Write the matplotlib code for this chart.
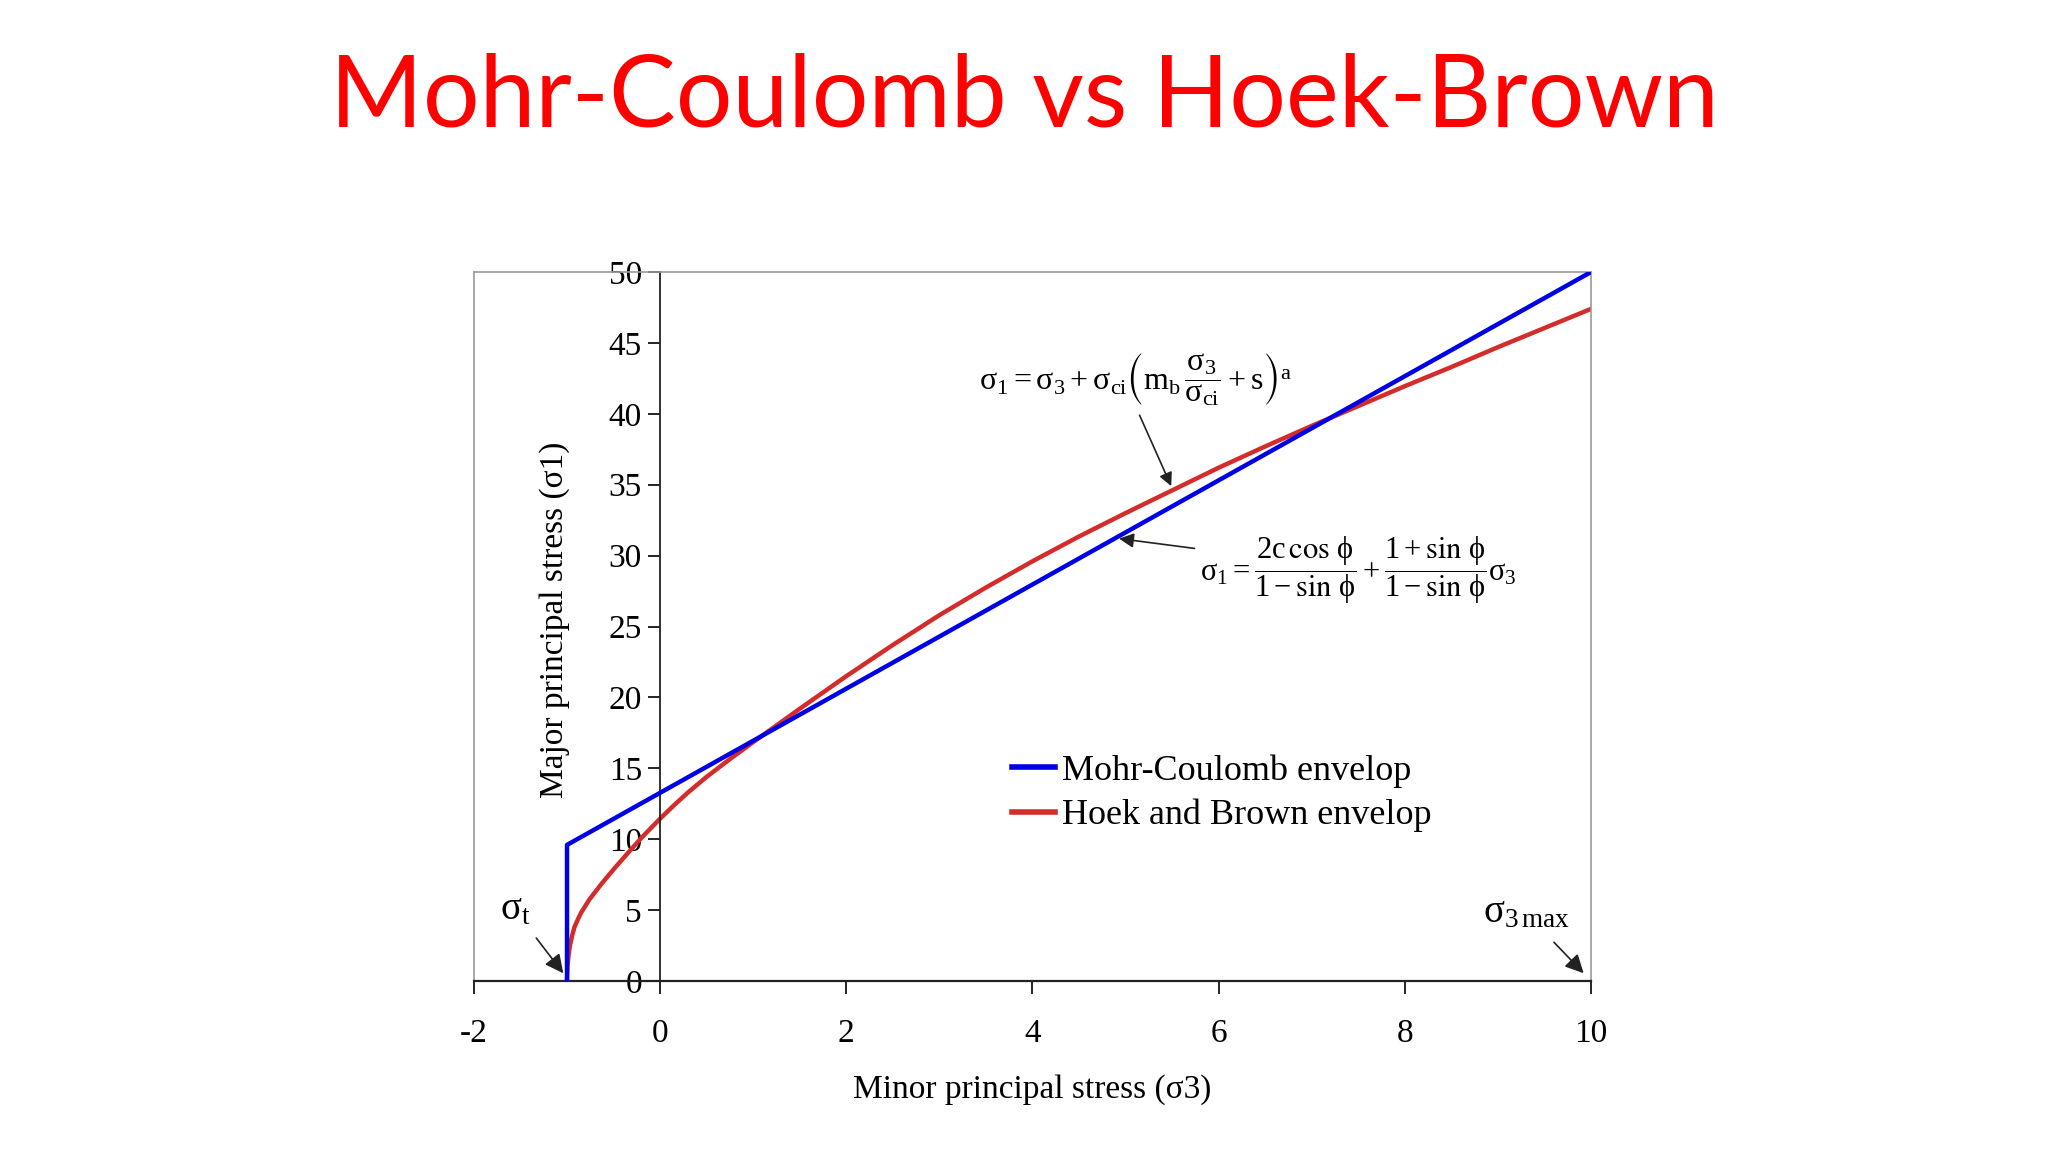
import matplotlib
matplotlib.use("Agg")
from matplotlib import pyplot as plt

# data
mc_x = [-1, -1, 10]
mc_y = [0, 9.6, 50]

hb_x = [-1, -0.995, -0.985, -0.97, -0.945, -0.92, -0.88, -0.85, -0.76, -0.63, -0.49, -0.35, -0.2, 0,
        0.15, 0.3, 0.5, 0.75, 1, 1.5, 2, 2.5, 3, 3.5, 4, 4.5, 5, 5.5, 6, 6.5, 7, 7.5, 8, 8.5, 9, 9.5, 10]
hb_y = [0, 1.0, 1.7, 2.45, 3.2, 3.8, 4.4, 4.8, 5.75, 6.85, 7.95, 9.0, 10.1, 11.45,
        12.4, 13.3, 14.4, 15.65, 16.85, 19.2, 21.5, 23.7, 25.8, 27.75, 29.6, 31.35, 33.0, 34.6,
        36.2, 37.7, 39.15, 40.55, 41.95, 43.3, 44.7, 46.05, 47.4]

x_ticks = [-2, 0, 2, 4, 6, 8, 10]
y_ticks = [0, 5, 10, 15, 20, 25, 30, 35, 40, 45, 50]

plt.rcParams['font.family'] = ['Liberation Serif', 'DejaVu Serif']
plt.rcParams['mathtext.fontset'] = 'stix'
plt.rcParams['mathtext.default'] = 'regular'

fig = plt.figure(figsize=(20.48, 11.52), dpi=100)
fig.patch.set_facecolor('white')

# title
fig.text(0.5, 0.915, "Mohr-Coulomb vs Hoek-Brown", ha='center', va='center',
         fontsize=72, color='#FF0000', family=['Lato', 'DejaVu Sans'])

ax = fig.add_axes([0.2314, 0.1484, 0.5455, 0.6155])
ax.plot(mc_x, mc_y, color='#0000E6', lw=3.2, label="Mohr-Coulomb envelop", zorder=3)
ax.plot(hb_x, hb_y, color='#D42B2B', lw=3.2, label="Hoek and Brown envelop", zorder=2)

ax.set_xlim(-2, 10)
ax.set_ylim(0, 50)
ax.set_xticks(x_ticks)
ax.set_yticks(y_ticks)
ax.set_xticklabels([str(t) for t in x_ticks])

# axes through the origin, grey outer frame
ax.spines['left'].set_position(('data', 0))
ax.spines['bottom'].set_position(('data', 0))
ax.spines['left'].set_color('#222222')
ax.spines['bottom'].set_color('#222222')
ax.spines['left'].set_linewidth(1.3)
ax.spines['bottom'].set_linewidth(1.6)
for s in ['top', 'right']:
    ax.spines[s].set_color('#999999')
    ax.spines[s].set_linewidth(1.2)
ax.axvline(-2, color='#999999', lw=1.2, clip_on=False)

ax.tick_params(axis='y', direction='out', length=9, width=1.2, labelsize=24, pad=4)
ax.tick_params(axis='x', direction='out', length=9, width=1.2, labelsize=24, pad=18)

# axis labels
fig.text(0.504, 0.054, "Minor principal stress (σ3)", ha='center', va='center', fontsize=24)
fig.text(0.271, 0.462, "Major principal stress (σ1)", ha='center', va='center',
         fontsize=24, rotation=90)

# formulas with arrows
ax.annotate('', xy=(5.49, 34.9), xytext=(5.15, 39.9),
            arrowprops=dict(arrowstyle='-|>', color='#222222', lw=1.2, shrinkA=0, shrinkB=0,
                            mutation_scale=20))
ax.text(5.11, 42.4, r'$\sigma_1 = \sigma_3 + \sigma_{ci}\left(m_b\,\dfrac{\sigma_3}{\sigma_{ci}} + s\right)^a$',
        ha='center', va='center', fontsize=23)
ax.annotate(r'$\sigma_1 = \dfrac{2c\,\cos\,\phi}{1-\sin\,\phi} + \dfrac{1+\sin\,\phi}{1-\sin\,\phi}\sigma_3$',
            xy=(4.93, 31.2), xytext=(5.8, 29.0), ha='left', va='center', fontsize=22,
            arrowprops=dict(arrowstyle='-|>', color='#222222', lw=1.2, shrinkA=2, shrinkB=0))

# sigma_t and sigma_3max markers
ax.annotate(r'$\sigma_t$', xy=(-1.04, 0.55), xytext=(-1.56, 5.0), ha='center', va='center',
            fontsize=28, arrowprops=dict(arrowstyle='-|>', color='#222222', lw=1.2, shrinkA=6, shrinkB=0))
ax.annotate(r'$\sigma_{3\,max}$', xy=(9.92, 0.55), xytext=(9.3, 4.8), ha='center', va='center',
            fontsize=28, arrowprops=dict(arrowstyle='-|>', color='#222222', lw=1.2, shrinkA=8, shrinkB=0))

leg = ax.legend(loc='upper left', bbox_to_anchor=(3.62, 17.0), bbox_transform=ax.transData,
                frameon=False, fontsize=26, handlelength=1.2, handletextpad=0.2,
                labelspacing=0.3, borderaxespad=0)
for line in leg.get_lines():
    line.set_linewidth(4)

plt.savefig("out.png", dpi=100, facecolor='white')
